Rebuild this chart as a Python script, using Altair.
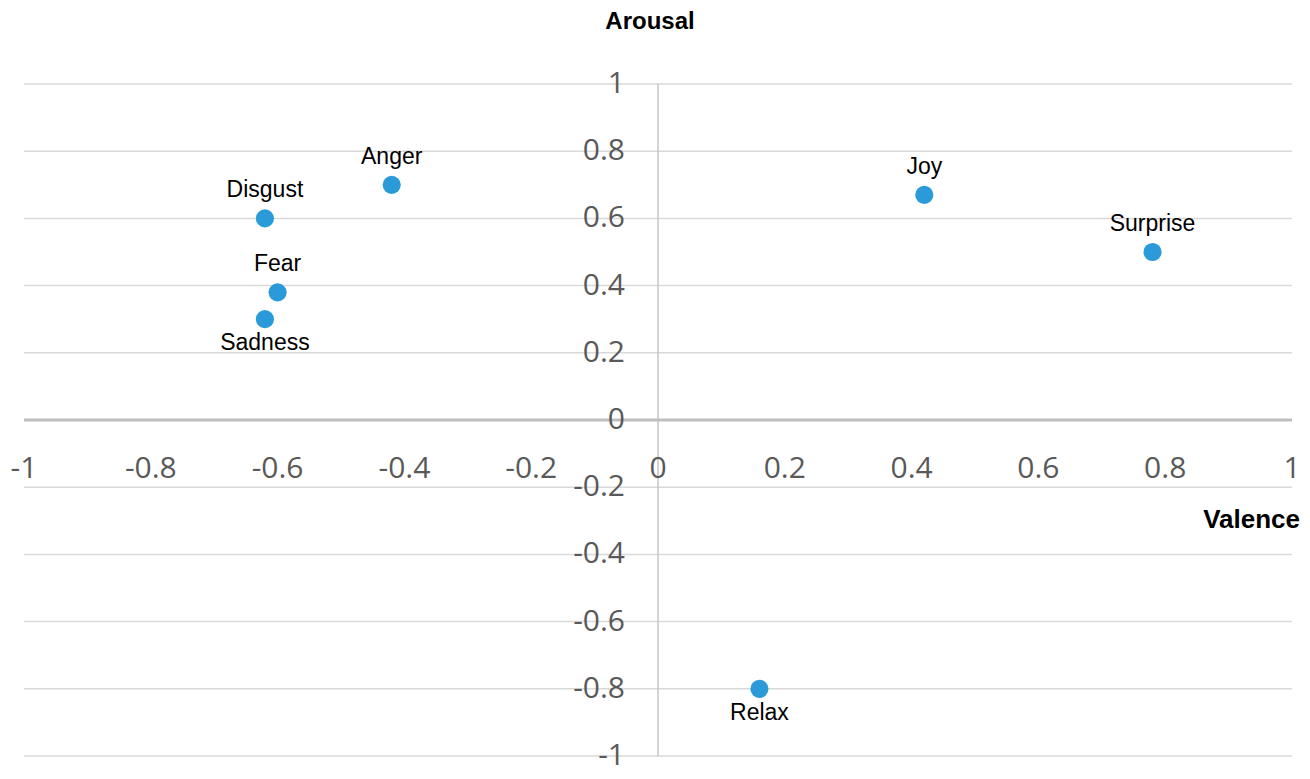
import altair as alt
import pandas as pd

# ---- data ----
emotions = ["Anger", "Disgust", "Fear", "Sadness", "Joy", "Surprise", "Relax"]
valence = [-0.42, -0.62, -0.60, -0.62, 0.42, 0.78, 0.16]
arousal = [0.70, 0.60, 0.38, 0.30, 0.67, 0.50, -0.80]
label_side = ["above", "above", "above", "below", "above", "above", "below"]

tick_values = [-1, -0.8, -0.6, -0.4, -0.2, 0, 0.2, 0.4, 0.6, 0.8, 1]
tick_labels = ["-1", "-0.8", "-0.6", "-0.4", "-0.2", "0", "0.2", "0.4", "0.6", "0.8", "1"]

x_title = "Valence"
y_title = "Arousal"

pts = pd.DataFrame({"emotion": emotions, "valence": valence,
                    "arousal": arousal, "side": label_side})
ticks = pd.DataFrame({"v": tick_values, "label": tick_labels})
ticks["zero"] = 0.0
ends = pd.DataFrame({"zero": [0.0], "lo": [min(tick_values)], "hi": [max(tick_values)]})

W, H = 1268, 672

xs = alt.Scale(domain=[-1, 1], nice=False, zero=False)
ys = alt.Scale(domain=[-1, 1], nice=False, zero=False)

GRID = "#d9d9d9"
AXIS = "#bfbfbf"
TICKC = "#595959"
DOT = "#2a9ad8"

grid = alt.Chart(ticks).mark_rule(color=GRID, strokeWidth=1.5).encode(
    x=alt.value(0), x2=alt.value(W),
    y=alt.Y("v:Q", scale=ys, axis=None),
)

hline = alt.Chart(ends).mark_rule(color=AXIS, strokeWidth=3).encode(
    x=alt.X("lo:Q", scale=xs, axis=None), x2="hi:Q",
    y=alt.Y("zero:Q", scale=ys, axis=None),
)
vline = alt.Chart(ends).mark_rule(color="#c6c6c6", strokeWidth=1.5).encode(
    x=alt.X("zero:Q", scale=xs, axis=None),
    y=alt.Y("lo:Q", scale=ys, axis=None), y2="hi:Q",
)

ylabels = alt.Chart(ticks).mark_text(
    align="right", baseline="middle", dx=-33, font="Open Sans",
    fontSize=30, color=TICKC
).encode(
    x=alt.X("zero:Q", scale=xs, axis=None),
    y=alt.Y("v:Q", scale=ys, axis=None),
    text="label:N",
)

xlabels = alt.Chart(ticks).mark_text(
    align="center", baseline="alphabetic", dy=58, font="Open Sans",
    fontSize=30, color=TICKC
).encode(
    x=alt.X("v:Q", scale=xs, axis=None),
    y=alt.Y("zero:Q", scale=ys, axis=None),
    text="label:N",
)

dots = alt.Chart(pts).mark_circle(size=330, color=DOT, opacity=1).encode(
    x=alt.X("valence:Q", scale=xs, axis=None),
    y=alt.Y("arousal:Q", scale=ys, axis=None),
)

lab_above = alt.Chart(pts).transform_filter(
    alt.datum.side == "above"
).mark_text(
    align="center", baseline="alphabetic", dy=-21,
    font="Liberation Sans", fontSize=23, color="#000000"
).encode(
    x=alt.X("valence:Q", scale=xs, axis=None),
    y=alt.Y("arousal:Q", scale=ys, axis=None),
    text="emotion:N",
)

lab_below = alt.Chart(pts).transform_filter(
    alt.datum.side == "below"
).mark_text(
    align="center", baseline="alphabetic", dy=31,
    font="Liberation Sans", fontSize=23, color="#000000"
).encode(
    x=alt.X("valence:Q", scale=xs, axis=None),
    y=alt.Y("arousal:Q", scale=ys, axis=None),
    text="emotion:N",
)

ytitle = alt.Chart(ends).mark_text(
    text=y_title, align="center", baseline="alphabetic", dy=-55, dx=-8,
    font="Liberation Sans", fontSize=24, fontWeight="bold", color="#000000"
).encode(
    x=alt.X("zero:Q", scale=xs, axis=None),
    y=alt.Y("hi:Q", scale=ys, axis=None),
)

xtitle = alt.Chart(ends).mark_text(
    text=x_title, align="right", baseline="alphabetic", dy=108, dx=8,
    font="Liberation Sans", fontSize=26, fontWeight="bold", color="#000000"
).encode(
    x=alt.X("hi:Q", scale=xs, axis=None),
    y=alt.Y("zero:Q", scale=ys, axis=None),
)

chart = alt.layer(
    grid, vline, hline, ylabels, xlabels, dots, lab_above, lab_below, ytitle, xtitle
).properties(
    width=W,
    height=H,
    padding={"left": 16, "top": 76, "right": 10, "bottom": 13},
    autosize=alt.AutoSizeParams(type="none"),
    background="#ffffff",
).configure_view(stroke=None)

chart.save("out.html", embed_options={"renderer": "svg", "actions": False})
